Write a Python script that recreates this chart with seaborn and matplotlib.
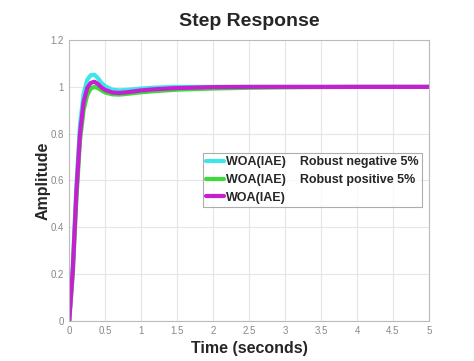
import numpy as np
import pandas as pd
import seaborn as sns
import matplotlib.pyplot as plt

# step response values
time = [0, 0.05, 0.1, 0.15, 0.2, 0.25, 0.3, 0.35, 0.4, 0.45, 0.5, 0.6, 0.7,
        0.8, 1.0, 1.2, 1.5, 2.0, 2.5, 3.0, 4.0, 5.0]
neg5 = [0, 0.24, 0.58, 0.84, 0.97, 1.03, 1.05, 1.052, 1.037, 1.017, 1.003, 0.988,
        0.985, 0.987, 0.993, 0.997, 1.0, 1.0, 1.0, 1.0, 1.0, 1.0]
pos5 = [0, 0.2, 0.52, 0.77, 0.9, 0.965, 0.993, 1.0, 0.995, 0.985, 0.976, 0.968,
        0.967, 0.97, 0.977, 0.982, 0.988, 0.993, 0.996, 0.998, 1.0, 1.0]
nominal = [0, 0.22, 0.55, 0.8, 0.935, 0.995, 1.017, 1.022, 1.012, 0.997, 0.987,
           0.976, 0.974, 0.977, 0.985, 0.99, 0.995, 0.999, 1.0, 1.0, 1.0, 1.0]

labels = ['WOA(IAE)    Robust negative 5%',
          'WOA(IAE)    Robust positive 5%',
          'WOA(IAE)']
colors = ['#3EE6EA', '#3ADB3A', '#C81ED2']

df = pd.DataFrame({'Time': time * 3,
                   'Amplitude': neg5 + pos5 + nominal,
                   'Series': [labels[0]] * len(time) + [labels[1]] * len(time)
                             + [labels[2]] * len(time)})

sns.set_style('whitegrid')
plt.rcParams['font.family'] = ['Liberation Sans', 'DejaVu Sans']

fig = plt.figure(figsize=(4.74, 3.61), dpi=100)
ax = fig.add_axes([0.146, 0.111, 0.759, 0.778])
sns.lineplot(data=df, x='Time', y='Amplitude', hue='Series', hue_order=labels,
             palette=colors, linewidth=3, ax=ax)

ax.set_xlim(0, 5)
ax.set_ylim(0, 1.2)
ax.set_xticks(np.arange(0, 5.01, 0.5))
ax.set_xticklabels(['0', '0.5', '1', '1.5', '2', '2.5', '3', '3.5', '4', '4.5', '5'])
ax.set_yticks(np.arange(0, 1.21, 0.2))
ax.set_yticklabels(['0', '0.2', '0.4', '0.6', '0.8', '1', '1.2'])
ax.tick_params(labelsize=7, colors='#888888', direction='in', length=2, pad=4)
ax.grid(color='#E6E6E6', linewidth=0.8)
for s in ax.spines.values():
    s.set_color('#BBBBBB')
    s.set_linewidth(0.8)

ax.set_title('Step Response', fontsize=14, fontweight='bold', pad=10)
ax.set_xlabel('Time (seconds)', fontsize=11.5, fontweight='bold', labelpad=3)
ax.set_ylabel('Amplitude', fontsize=11.5, fontweight='bold', labelpad=0)

leg = ax.legend(loc='upper left', bbox_to_anchor=(0.372, 0.597), fontsize=9,
                frameon=True, fancybox=False, handlelength=1.4, handletextpad=0.2,
                borderpad=0.25, labelspacing=0.45, borderaxespad=0)
leg.get_frame().set_edgecolor('#999999')
leg.get_frame().set_linewidth(0.8)
for t in leg.get_texts():
    t.set_fontweight('bold')
for h in leg.get_lines():
    h.set_linewidth(3)

fig.savefig('out.png', dpi=100)
